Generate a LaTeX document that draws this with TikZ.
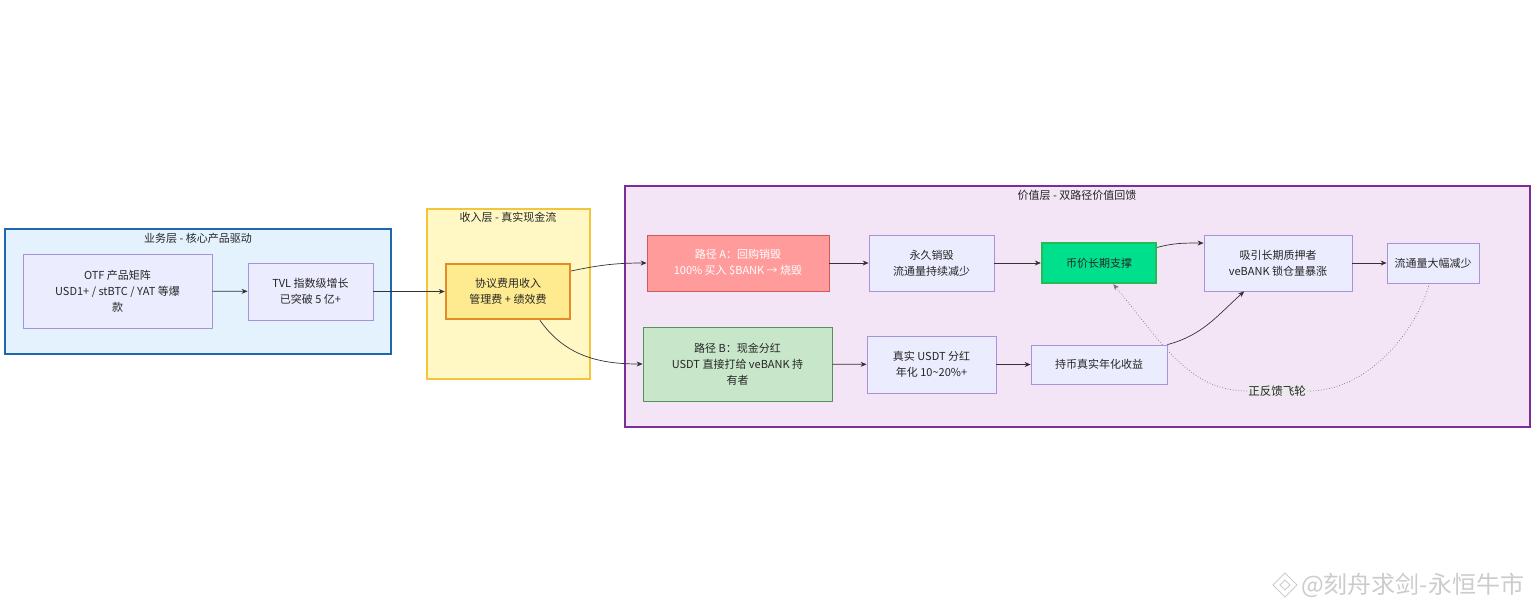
\documentclass[tikz,border=0pt]{standalone}
\usepackage{fontspec}
\setmainfont{Noto Sans CJK SC}
\usetikzlibrary{arrows.meta}
\pgfdeclarelayer{bg}
\pgfdeclarelayer{mid}
\pgfsetlayers{bg,mid,main}
\definecolor{bizfill}{HTML}{E3F2FD}
\definecolor{bizdraw}{HTML}{1E66B0}
\definecolor{revfill}{HTML}{FFF8C4}
\definecolor{revdraw}{HTML}{F2C53D}
\definecolor{valfill}{HTML}{F3E5F5}
\definecolor{valdraw}{HTML}{7B2D9A}
\definecolor{nfill}{HTML}{ECECFF}
\definecolor{ndraw}{HTML}{A892DA}
\definecolor{feefill}{HTML}{FFEB8F}
\definecolor{feedraw}{HTML}{E38B24}
\definecolor{afill}{HTML}{FF9B9B}
\definecolor{adraw}{HTML}{CF5A5A}
\definecolor{gfill}{HTML}{00E08C}
\definecolor{gdraw}{HTML}{22BB55}
\definecolor{bfill}{HTML}{C8E6C9}
\definecolor{bdraw}{HTML}{55925A}
\definecolor{linec}{HTML}{333333}
\tikzset{
  box/.style={draw=ndraw, fill=nfill, line width=0.8pt, align=center, font=\fontsize{11}{16}\selectfont, text=black!85, inner sep=0pt},
  cluster/.style={line width=2.6pt},
  ctitle/.style={font=\fontsize{11}{13}\selectfont, text=black!85},
  arr/.style={draw=linec, line width=0.7pt, -{Stealth[length=6pt,width=5pt]}},
  fb/.style={draw=black!55, line width=0.7pt, dotted, -{Stealth[length=6pt,width=5pt]}},
}
\begin{document}
\begin{tikzpicture}[x=1pt,y=-1pt]
\useasboundingbox (0,0) rectangle (1536,614);
% clusters
\begin{pgfonlayer}{bg}
\fill[white] (0,0) rectangle (1536,614);
\draw[cluster, draw=bizdraw, fill=bizfill] (5,229) rectangle (391,354);
\draw[cluster, draw=revdraw, fill=revfill] (427,209) rectangle (590,379);
\draw[cluster, draw=valdraw, fill=valfill] (625,186) rectangle (1530,427);
\end{pgfonlayer}
\node[ctitle] (t1) at (198,238) {业务层 - 核心产品驱动};
\node[ctitle] (t2) at (508,217) {收入层 - 真实现金流};
\node[ctitle] (t3) at (1077,195) {价值层 - 双路径价值回馈};
% nodes
\node[box, minimum width=189pt, minimum height=74pt] (otf) at (117.5,291) {OTF 产品矩阵\\USD1+ / stBTC / YAT 等爆\\款};
\node[box, minimum width=125pt, minimum height=57pt] (tvl) at (310.5,291.5) {TVL 指数级增长\\已突破 5 亿+};
\node[box, draw=feedraw, fill=feefill, line width=2.4pt, minimum width=124pt, minimum height=55pt] (fee) at (508,291.5) {协议费用收入\\管理费 + 绩效费};
\node[box, draw=adraw, fill=afill, text=white, minimum width=182pt, minimum height=56pt] (pa) at (738,263) {路径 A：回购销毁\\100\% 买入 \$BANK → 烧毁};
\node[box, minimum width=125pt, minimum height=56pt] (burn) at (931.5,263) {永久销毁\\流通量持续减少};
\node[box, draw=gdraw, fill=gfill, line width=2.4pt, minimum width=114pt, minimum height=40pt] (price) at (1099,263) {币价长期支撑};
\node[box, minimum width=148pt, minimum height=56pt] (stake) at (1278,263) {吸引长期质押者\\veBANK 锁仓量暴涨};
\node[box, minimum width=92pt, minimum height=40pt] (supply) at (1433,263) {流通量大幅减少};
\node[box, draw=bdraw, fill=bfill, minimum width=189pt, minimum height=74pt] (pb) at (737.5,364) {路径 B：现金分红\\USDT 直接打给 veBANK 持\\有者};
\node[box, minimum width=129pt, minimum height=57pt] (div) at (931.5,364.5) {真实 USDT 分红\\年化 10\textasciitilde 20\%+};
\node[box, minimum width=136pt, minimum height=39pt] (yield) at (1099,364.5) {持币真实年化收益};
% feedback label
\node[font=\fontsize{11.5}{13}\selectfont, text=black!85, fill=black!8, fill opacity=0.8, text opacity=1, inner sep=1pt] (loop) at (1277,391) {正反馈飞轮};
% feedback dotted path (behind yield box)
\begin{pgfonlayer}{mid}
\draw[draw=black!55, line width=0.7pt, dotted] (supply.-100) .. controls (1415,335) and (1365,392) .. (loop.east);
\draw[fb] (loop.west) .. controls (1188,391) and (1160,340) .. (price.-56);
\end{pgfonlayer}
% connectors
\draw[arr] (otf) -- (tvl);
\draw[arr] (tvl) -- (fee);
\draw[arr] (fee.18) to[out=12,in=180] (pa.west);
\draw[arr] (fee.-42) to[out=-55,in=180] (pb.west);
\draw[arr] (pa) -- (burn);
\draw[arr] (burn) -- (price);
\draw[arr] (price.15) to[out=15,in=180] (stake.165);
\draw[arr] (stake) -- (supply);
\draw[arr] (pb) -- (div);
\draw[arr] (div) -- (yield);
\draw[arr] (yield.north east) to[out=15,in=-138] (stake.-140);
% watermark
\draw[black!20, line width=1pt] (1285,573) -- (1297,585) -- (1285,597) -- (1273,585) -- cycle;
\draw[black!20, line width=0.8pt] (1285,580) -- (1290,585) -- (1285,590) -- (1280,585) -- cycle;
\node[font=\fontsize{24}{26}\selectfont, text=black!20, anchor=west, inner sep=0pt] (wm) at (1301,585) {@刻舟求剑-永恒牛市};
\end{tikzpicture}
\end{document}
